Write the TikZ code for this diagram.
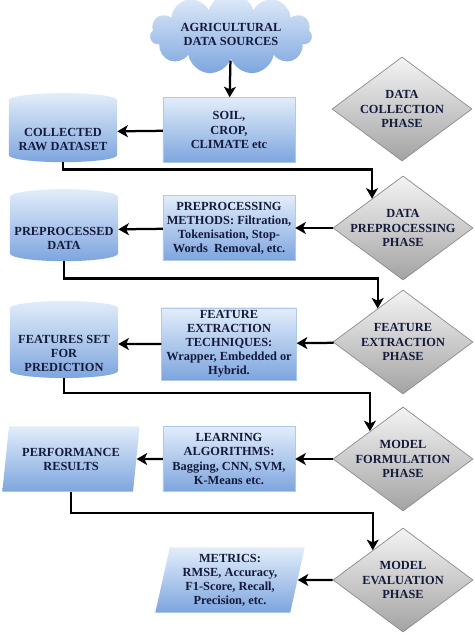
\documentclass[tikz,border=0pt]{standalone}
\usepackage{fontspec}
\setmainfont{Liberation Serif}
\usetikzlibrary{shapes.geometric,shapes.symbols,arrows.meta,calc}

\definecolor{navytext}{HTML}{141A3C}
\definecolor{boxtop}{HTML}{E2EDFA}
\definecolor{boxbot}{HTML}{7DA5DE}
\definecolor{phasetop}{HTML}{F4F4F4}
\definecolor{phasebot}{HTML}{A3A3A3}
\definecolor{phaseline}{HTML}{8C8C8C}

\begin{document}
\begin{tikzpicture}[
    x=0.025cm, y=-0.025cm,
    every node/.style = {font=\fontsize{8.8}{10}\selectfont\bfseries, text=navytext, align=center},
    method node/.style = {rectangle, draw=boxtop!50!boxbot, line width=0.3pt, top color=boxtop, bottom color=boxbot, minimum width=3.3cm, minimum height=1.625cm, inner sep=1pt},
    data node/.style = {cylinder, shape border rotate=90, aspect=0.15, top color=boxtop, bottom color=boxbot, minimum width=2.7cm, minimum height=1.8cm, inner xsep=1pt, inner ysep=0pt, text depth=0pt},
    result node/.style = {trapezium, trapezium left angle=78, trapezium right angle=102, trapezium stretches=true, top color=boxtop, bottom color=boxbot, minimum height=1.625cm, inner sep=1pt},
    phase node/.style = {diamond, draw=phaseline, line width=0.5pt, top color=phasetop, bottom color=phasebot, minimum width=3.5cm, minimum height=2.6cm, inner sep=0pt},
    flow arrow/.style = {line width=1.6pt, -{Stealth[length=7.5pt, width=8.5pt, inset=2pt]}}
]
\useasboundingbox (0,0) rectangle (474,635);

% Fuente de datos
\node[cloud, cloud puffs=11, aspect=2.7, top color=boxtop, bottom color=boxbot, minimum width=4.05cm, minimum height=1.55cm, inner sep=0pt] (src) at (231,34) {AGRICULTURAL\\DATA SOURCES};

% --- FASES (derecha) ---
\node[phase node] (dc) at (402,109) {};
\node (dct) at (dc) {DATA\\COLLECTION\\PHASE};
\node[phase node] (dp) at (403,228) {};
\node (dpt) at (dp) {DATA\\PREPROCESSING\\PHASE};
\node[phase node] (fe) at (403,342) {};
\node (fet) at (fe) {FEATURE\\EXTRACTION\\PHASE};
\node[phase node] (mf) at (403,459) {};
\node (mft) at (mf) {MODEL\\FORMULATION\\PHASE};
\node[phase node] (me) at (403,580) {};
\node (met) at (me) {MODEL\\EVALUATION\\PHASE};

% --- METODOS (centro) ---
\node[method node] (soil) at (229,130) {SOIL,\\CROP,\\CLIMATE etc};
\node[method node] (prep) at (229,228) {PREPROCESSING\\METHODS: Filtration,\\Tokenisation, Stop-\\Words\ \ Removal, etc.};
\node[method node, minimum width=3.375cm, minimum height=1.8cm] (feat) at (229,344) {FEATURE\\EXTRACTION\\TECHNIQUES:\\Wrapper, Embedded or\\Hybrid.};
\node[method node] (learn) at (229,459) {LEARNING\\ALGORITHMS:\\Bagging, CNN, SVM,\\K-Means etc.};
\node[result node, minimum width=3.75cm] (metric) at (230,580) {METRICS:\\RMSE, Accuracy,\\F1-Score, Recall,\\Precision, etc.};

% --- DATOS (izquierda) ---
\node[data node, minimum height=1.725cm, text height=26pt] (raw) at (63,132) {COLLECTED\\RAW DATASET};
\node[data node, text height=27.2pt] (ppd) at (64,230) {PREPROCESSED\\DATA};
\node[data node, minimum height=1.925cm, text height=39.4pt] (fset) at (64,344) {FEATURES SET\\FOR\\PREDICTION};
\node[result node, minimum width=3.45cm] (perf) at (71,459) {PERFORMANCE\\RESULTS};

% Entradas a los rombos
\coordinate (dpin) at ($(dp.north)!0.44!(dp.west)$);
\coordinate (fein) at ($(fe.north)!0.36!(fe.west)$);
\coordinate (mfin) at ($(mf.north)!0.47!(mf.west)$);
\coordinate (mein) at ($(me.north)!0.43!(me.west)$);

% --- FLECHAS ---
\draw[flow arrow] (src) -- (soil);
\draw[flow arrow] (soil) -- (raw);
\draw[flow arrow] (raw.south) -- ++(0,7) -| (dpin);
\draw[flow arrow] (dp) -- (prep);
\draw[flow arrow] (prep) -- (ppd);
\draw[flow arrow] (ppd.south) -- ++(0,17) -| (fein);
\draw[flow arrow] (fe) -- (feat);
\draw[flow arrow] (feat) -- (fset);
\draw[flow arrow] (fset.south) -- ++(0,15) -| (mfin);
\draw[flow arrow] (mf) -- (learn);
\draw[flow arrow] (learn) -- (perf);
\draw[flow arrow] (perf.center |- perf.south) -- ++(0,21) -| (mein);
\draw[flow arrow] (me) -- (metric);

\end{tikzpicture}
\end{document}
